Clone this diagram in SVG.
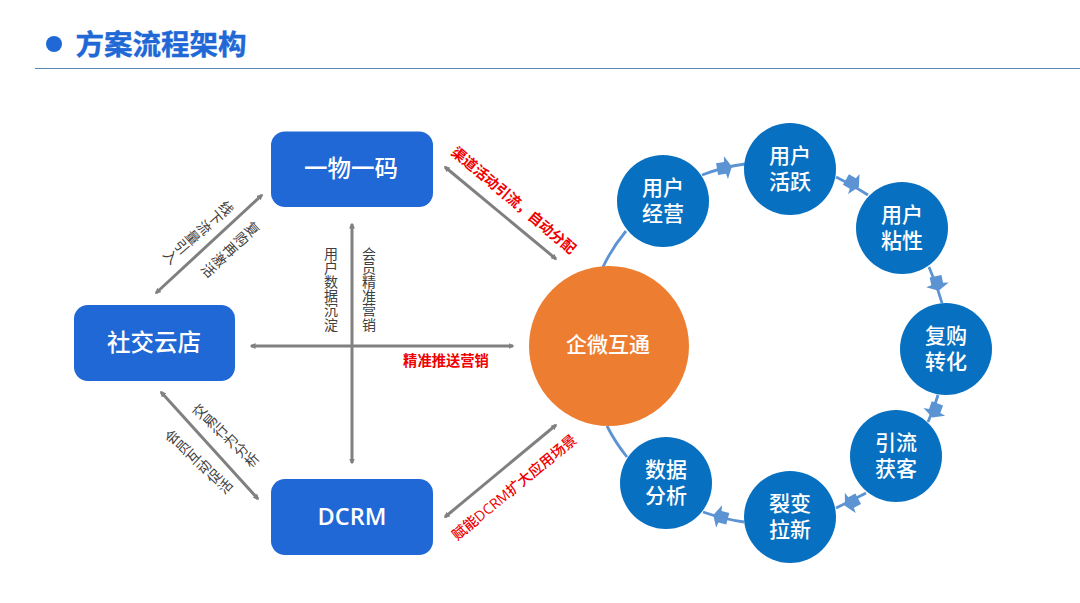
<svg xmlns="http://www.w3.org/2000/svg" width="1080" height="603" viewBox="0 0 1080 603">
<defs>
<marker id="tip" viewBox="0 0 4 4" refX="3" refY="2" markerWidth="2" markerHeight="2" orient="auto-start-reverse"><path d="M0,0L4,2L0,4Z" fill="#808080"/></marker>
<path id="barb" d="M-7,-6L1,-6L2,-11.500L8,0L2,11.500L1,6L-7,6Z" fill="#5b93d3"/>
</defs>
<style>
text{font-family:"Open Sans","Noto Sans CJK SC","Liberation Sans",sans-serif;text-anchor:middle;dominant-baseline:central}
.box{fill:#2068d6}
.step{fill:#0870c0}
.w{fill:#fff;font-weight:500}
.big{font-size:23.500px}
.c{font-size:21px}
.g{fill:#404040;font-size:14px}
.r{fill:#f00000;font-size:14.300px}
.b{font-weight:700}
.gl{stroke:#808080;stroke-width:3;fill:none;marker-start:url(#tip);marker-end:url(#tip)}
.arc{stroke:#5b93d3;stroke-width:2.800;fill:none}
</style>
<rect width="1080" height="603" fill="#fff"/>
<g id="title">
<circle cx="54" cy="44" r="8" fill="#2068d6"/>
<text x="161" y="43.500" font-size="28.500" font-weight="700" fill="#2068d6" stroke="#2068d6" stroke-width="0.400">方案流程架构</text>
<line x1="35" y1="68.500" x2="1080" y2="68.500" stroke="#5b86ad" stroke-width="1"/>
</g>
<g id="connectors">
<line class="gl" x1="262" y1="195" x2="156" y2="293"/>
<line class="gl" x1="445" y1="167" x2="556" y2="259"/>
<line class="gl" x1="352" y1="224" x2="352" y2="463"/>
<line class="gl" x1="251" y1="346" x2="513" y2="346"/>
<line class="gl" x1="161" y1="392" x2="258" y2="499"/>
<line class="gl" x1="445" y1="517" x2="556" y2="425"/>
<path class="arc" d="M603,267Q612,248 626,231"/>
<path class="arc" d="M702,175Q723,167 745,164"/>
<path class="arc" d="M836,177Q853,185 868,195"/>
<path class="arc" d="M929,267Q937,285 942,303"/>
<path class="arc" d="M938,395Q934,409 928,422"/>
<path class="arc" d="M866,493Q851,501 836,508"/>
<path class="arc" d="M744,522Q723,519 703,512"/>
<path class="arc" d="M627,457Q615,442 607,426"/>
<use href="#barb" transform="translate(724,168) rotate(-10)"/>
<use href="#barb" transform="translate(852,183) rotate(30)"/>
<use href="#barb" transform="translate(937,283) rotate(78)"/>
<use href="#barb" transform="translate(935,410) rotate(110)"/>
<use href="#barb" transform="translate(852,502) rotate(152)"/>
<use href="#barb" transform="translate(721,517) rotate(195)"/>
</g>
<g id="labels">
<text class="g" transform="translate(199,232) rotate(49)" y="-36.750"><tspan x="0">线</tspan><tspan x="0" dy="14.700">下</tspan><tspan x="0" dy="14.700">流</tspan><tspan x="0" dy="14.700">量</tspan><tspan x="0" dy="14.700">引</tspan><tspan x="0" dy="14.700">入</tspan></text>
<text class="g" transform="translate(231,249) rotate(47)" y="-30"><tspan x="0">复</tspan><tspan x="0" dy="15">购</tspan><tspan x="0" dy="15">再</tspan><tspan x="0" dy="15">激</tspan><tspan x="0" dy="15">活</tspan></text>
<text class="g" transform="translate(331,288)" y="-35.500"><tspan x="0">用</tspan><tspan x="0" dy="14.200">户</tspan><tspan x="0" dy="14.200">数</tspan><tspan x="0" dy="14.200">据</tspan><tspan x="0" dy="14.200">沉</tspan><tspan x="0" dy="14.200">淀</tspan></text>
<text class="g" transform="translate(369,288)" y="-35.500"><tspan x="0">会</tspan><tspan x="0" dy="14.200">员</tspan><tspan x="0" dy="14.200">精</tspan><tspan x="0" dy="14.200">准</tspan><tspan x="0" dy="14.200">营</tspan><tspan x="0" dy="14.200">销</tspan></text>
<text class="g" transform="translate(225,435) rotate(-47)" y="-35.750"><tspan x="0">交</tspan><tspan x="0" dy="14.300">易</tspan><tspan x="0" dy="14.300">行</tspan><tspan x="0" dy="14.300">为</tspan><tspan x="0" dy="14.300">分</tspan><tspan x="0" dy="14.300">析</tspan></text>
<text class="g" transform="translate(198,461) rotate(-47)" y="-36.250"><tspan x="0">会</tspan><tspan x="0" dy="14.500">员</tspan><tspan x="0" dy="14.500">互</tspan><tspan x="0" dy="14.500">动</tspan><tspan x="0" dy="14.500">促</tspan><tspan x="0" dy="14.500">活</tspan></text>
<text class="r b" transform="translate(514,200) rotate(40)">渠道活动引流，自动分配</text>
<text class="r b" x="446" y="360">精准推送营销</text>
<text class="r" font-weight="500" transform="translate(514,487) rotate(-39.500)" style="font-size:14.400px">赋能DCRM扩大应用场景</text>
</g>
<g id="node-yiwuyima"><rect class="box" x="271" y="131.500" width="162" height="75.500" rx="14"/><text class="w big" x="351" y="168">一物一码</text></g>
<g id="node-shejiao"><rect class="box" x="74" y="305" width="161" height="76" rx="14"/><text class="w big" x="154" y="341.500">社交云店</text></g>
<g id="node-dcrm"><rect class="box" x="271" y="479" width="162" height="76" rx="14"/><text class="w big" x="352" y="516" style="font-weight:600">DCRM</text></g>
<g id="node-qiwei"><circle cx="609" cy="346" r="80" fill="#ed7d31"/><text class="w c" x="608" y="344">企微互通</text></g>
<g id="node-jingying"><circle class="step" cx="663" cy="201" r="46"/><text class="w c" y="186.500"><tspan x="663">用户</tspan><tspan x="663" dy="26">经营</tspan></text></g>
<g id="node-huoyue"><circle class="step" cx="790" cy="169" r="46"/><text class="w c" y="154.500"><tspan x="790">用户</tspan><tspan x="790" dy="26">活跃</tspan></text></g>
<g id="node-nianxing"><circle class="step" cx="902" cy="228" r="46"/><text class="w c" y="213.500"><tspan x="902">用户</tspan><tspan x="902" dy="26">粘性</tspan></text></g>
<g id="node-fugou"><circle class="step" cx="946" cy="349" r="46"/><text class="w c" y="334.500"><tspan x="946">复购</tspan><tspan x="946" dy="26">转化</tspan></text></g>
<g id="node-yinliu"><circle class="step" cx="896" cy="456" r="46"/><text class="w c" y="441.500"><tspan x="896">引流</tspan><tspan x="896" dy="26">获客</tspan></text></g>
<g id="node-liebian"><circle class="step" cx="790" cy="517" r="46"/><text class="w c" y="502.500"><tspan x="790">裂变</tspan><tspan x="790" dy="26">拉新</tspan></text></g>
<g id="node-shuju"><circle class="step" cx="666" cy="483" r="46"/><text class="w c" y="468.500"><tspan x="666">数据</tspan><tspan x="666" dy="26">分析</tspan></text></g>
</svg>
